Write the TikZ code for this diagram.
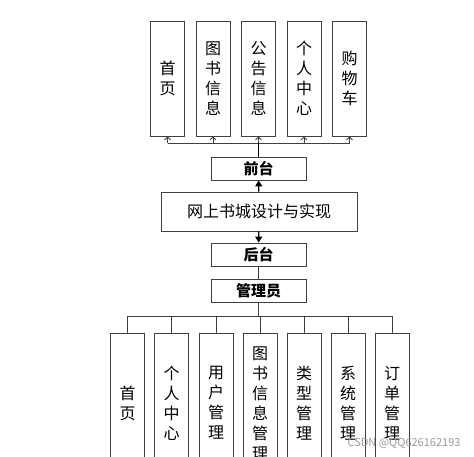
\documentclass[tikz,border=0pt]{standalone}
\usepackage{fontspec}
\setmainfont{Noto Sans CJK SC}
\usetikzlibrary{arrows.meta,calc,positioning}
\begin{document}
\begin{tikzpicture}[
			x=1pt, y=-1pt,
			every node/.style={font=\fontsize{16}{20}\selectfont},
			col/.style={draw=black!75, line width=0.8pt, minimum width=34pt, align=center, inner sep=0pt},
			topcol/.style={col, minimum height=115pt},
			botcol/.style={col, minimum height=140pt},
			bar/.style={draw=black!75, line width=0.8pt, minimum width=95pt, minimum height=23pt, inner sep=0pt, font=\fontsize{15}{17}\selectfont\bfseries},
			wire/.style={black!75, line width=0.8pt},
			]
			\useasboundingbox (0,0) rectangle (474,456);
			\clip (0,0) rectangle (474,456);
			% front end pages
			\foreach \x/\txt [count=\i] in {167.5/{首\\页}, 213/{图\\书\\信\\息}, 258.5/{公\\告\\信\\息}, 304/{个\\人\\中\\心}, 349.5/{购\\物\\车}}
			\node[topcol] (t\i) at (\x,78.5) {\txt};
			% middle
			\node[bar] (qian) at (258.5,168.5) {前台};
			\node[bar, minimum width=196pt, minimum height=39pt, font=\fontsize{16}{18}\selectfont] (main) at (259,211.5) {网上书城设计与实现};
			\node[bar] (hou) at (258.5,254.5) {后台};
			\node[bar] (guan) at (258.5,290.5) {管理员};
			% back end pages
			\foreach \x/\txt [count=\i] in {127.5/{首\\页}, 171.5/{个\\人\\中\\心}, 216/{用\\户\\管\\理}, 260/{图\\书\\信\\息\\管\\理}, 304/{类\\型\\管\\理}, 348/{系\\统\\管\\理}, 392/{订\\单\\管\\理}}
			\node[botcol] (b\i) at (\x,403) {\txt};
			% buses
			\coordinate (tbus) at (258.5,143);
			\coordinate (bbus) at (258.5,316);
			\draw[wire] (t1.south |- tbus) -- (t5.south |- tbus);
			\foreach \i in {1,...,5}
			\draw[wire, -{Straight Barb[length=3pt,width=6pt]}] (t\i.south |- tbus) -- (t\i.south);
			\draw[line width=1.5pt] (qian.north) -- (qian.north |- tbus);
			\draw[wire] (b1.north |- bbus) -- (b7.north |- bbus);
			\foreach \i in {1,...,7}
			\draw[wire] (b\i.north |- bbus) -- (b\i.north);
			\draw[wire] (guan.south) -- (bbus);
			% edges
			\draw[line width=1.2pt, -{Triangle[length=6pt,width=7pt]}] (main) -- (qian);
			\draw[line width=1.2pt, -{Triangle[length=6pt,width=7pt]}] (main) -- (hou);
			\draw[wire] (hou) -- (guan);
			% watermark
			\node[font=\fontsize{11}{13}\selectfont, text=black!40] (wm) at (404,443) {CSDN @QQ626162193};
		\end{tikzpicture}
\end{document}
